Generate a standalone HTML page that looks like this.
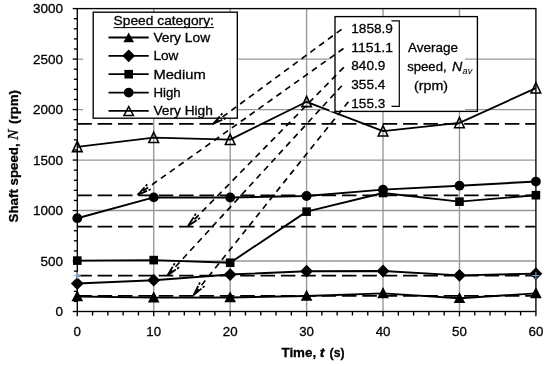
<!DOCTYPE html>
<html lang="en">
<head>
<meta charset="utf-8">
<title>Shaft speed vs time</title>
<style>
html,body{margin:0;padding:0;background:#fff;}
body{width:550px;height:366px;overflow:hidden;}
svg{display:block;}
text{font-family:"Liberation Sans",sans-serif;font-size:13.6px;fill:#000;stroke:#000;stroke-width:0.3px;}
.b{font-weight:bold;}
.i{font-style:italic;}
.ser{font-family:"Liberation Serif",serif;font-style:italic;font-weight:normal;}
</style>
</head>
<body>
<svg width="550" height="366" viewBox="0 0 550 366">
<rect x="0" y="0" width="550" height="366" fill="#fff"/>

<g stroke="#979797" stroke-width="1.35" fill="none">
<line x1="77.3" y1="261.02" x2="535.9" y2="261.02"/>
<line x1="77.3" y1="210.53" x2="535.9" y2="210.53"/>
<line x1="77.3" y1="160.05" x2="535.9" y2="160.05"/>
<line x1="77.3" y1="109.57" x2="535.9" y2="109.57"/>
<line x1="77.3" y1="59.08" x2="535.9" y2="59.08"/>
<line x1="153.73" y1="8.6" x2="153.73" y2="311.5"/>
<line x1="230.17" y1="8.6" x2="230.17" y2="311.5"/>
<line x1="306.6" y1="8.6" x2="306.6" y2="311.5"/>
<line x1="383.03" y1="8.6" x2="383.03" y2="311.5"/>
<line x1="459.47" y1="8.6" x2="459.47" y2="311.5"/>
</g>
<g stroke="#000" stroke-width="1.35" fill="none">
<rect x="77.3" y="8.6" width="458.6" height="302.9"/>
<line x1="72.7" y1="311.5" x2="77.3" y2="311.5"/>
<line x1="73.9" y1="301.4" x2="77.3" y2="301.4"/>
<line x1="73.9" y1="291.31" x2="77.3" y2="291.31"/>
<line x1="73.9" y1="281.21" x2="77.3" y2="281.21"/>
<line x1="73.9" y1="271.11" x2="77.3" y2="271.11"/>
<line x1="72.7" y1="261.02" x2="77.3" y2="261.02"/>
<line x1="73.9" y1="250.92" x2="77.3" y2="250.92"/>
<line x1="73.9" y1="240.82" x2="77.3" y2="240.82"/>
<line x1="73.9" y1="230.73" x2="77.3" y2="230.73"/>
<line x1="73.9" y1="220.63" x2="77.3" y2="220.63"/>
<line x1="72.7" y1="210.53" x2="77.3" y2="210.53"/>
<line x1="73.9" y1="200.44" x2="77.3" y2="200.44"/>
<line x1="73.9" y1="190.34" x2="77.3" y2="190.34"/>
<line x1="73.9" y1="180.24" x2="77.3" y2="180.24"/>
<line x1="73.9" y1="170.15" x2="77.3" y2="170.15"/>
<line x1="72.7" y1="160.05" x2="77.3" y2="160.05"/>
<line x1="73.9" y1="149.95" x2="77.3" y2="149.95"/>
<line x1="73.9" y1="139.86" x2="77.3" y2="139.86"/>
<line x1="73.9" y1="129.76" x2="77.3" y2="129.76"/>
<line x1="73.9" y1="119.66" x2="77.3" y2="119.66"/>
<line x1="72.7" y1="109.57" x2="77.3" y2="109.57"/>
<line x1="73.9" y1="99.47" x2="77.3" y2="99.47"/>
<line x1="73.9" y1="89.37" x2="77.3" y2="89.37"/>
<line x1="73.9" y1="79.28" x2="77.3" y2="79.28"/>
<line x1="73.9" y1="69.18" x2="77.3" y2="69.18"/>
<line x1="72.7" y1="59.08" x2="77.3" y2="59.08"/>
<line x1="73.9" y1="48.99" x2="77.3" y2="48.99"/>
<line x1="73.9" y1="38.89" x2="77.3" y2="38.89"/>
<line x1="73.9" y1="28.79" x2="77.3" y2="28.79"/>
<line x1="73.9" y1="18.7" x2="77.3" y2="18.7"/>
<line x1="72.7" y1="8.6" x2="77.3" y2="8.6"/>
<line x1="77.3" y1="311.5" x2="77.3" y2="316.3"/>
<line x1="92.59" y1="311.5" x2="92.59" y2="315.5"/>
<line x1="107.87" y1="311.5" x2="107.87" y2="315.5"/>
<line x1="123.16" y1="311.5" x2="123.16" y2="315.5"/>
<line x1="138.45" y1="311.5" x2="138.45" y2="315.5"/>
<line x1="153.73" y1="311.5" x2="153.73" y2="316.3"/>
<line x1="169.02" y1="311.5" x2="169.02" y2="315.5"/>
<line x1="184.31" y1="311.5" x2="184.31" y2="315.5"/>
<line x1="199.59" y1="311.5" x2="199.59" y2="315.5"/>
<line x1="214.88" y1="311.5" x2="214.88" y2="315.5"/>
<line x1="230.17" y1="311.5" x2="230.17" y2="316.3"/>
<line x1="245.45" y1="311.5" x2="245.45" y2="315.5"/>
<line x1="260.74" y1="311.5" x2="260.74" y2="315.5"/>
<line x1="276.03" y1="311.5" x2="276.03" y2="315.5"/>
<line x1="291.31" y1="311.5" x2="291.31" y2="315.5"/>
<line x1="306.6" y1="311.5" x2="306.6" y2="316.3"/>
<line x1="321.89" y1="311.5" x2="321.89" y2="315.5"/>
<line x1="337.17" y1="311.5" x2="337.17" y2="315.5"/>
<line x1="352.46" y1="311.5" x2="352.46" y2="315.5"/>
<line x1="367.75" y1="311.5" x2="367.75" y2="315.5"/>
<line x1="383.03" y1="311.5" x2="383.03" y2="316.3"/>
<line x1="398.32" y1="311.5" x2="398.32" y2="315.5"/>
<line x1="413.61" y1="311.5" x2="413.61" y2="315.5"/>
<line x1="428.89" y1="311.5" x2="428.89" y2="315.5"/>
<line x1="444.18" y1="311.5" x2="444.18" y2="315.5"/>
<line x1="459.47" y1="311.5" x2="459.47" y2="316.3"/>
<line x1="474.75" y1="311.5" x2="474.75" y2="315.5"/>
<line x1="490.04" y1="311.5" x2="490.04" y2="315.5"/>
<line x1="505.33" y1="311.5" x2="505.33" y2="315.5"/>
<line x1="520.61" y1="311.5" x2="520.61" y2="315.5"/>
<line x1="535.9" y1="311.5" x2="535.9" y2="316.3"/>
</g>
<g stroke="#000" stroke-width="1.8" fill="none" stroke-dasharray="14.5 5.86">
<line x1="77.3" y1="123.81" x2="535.9" y2="123.81"/>
<line x1="77.3" y1="195.28" x2="535.9" y2="195.28"/>
<line x1="77.3" y1="226.6" x2="535.9" y2="226.6"/>
<line x1="77.3" y1="275.62" x2="535.9" y2="275.62"/>
<line x1="77.3" y1="295.82" x2="535.9" y2="295.82"/>
</g>
<polyline points="77.3,296.56 153.73,297.67 230.17,297.47 306.6,295.95 383.03,293.33 459.47,298.27 535.9,293.33" fill="none" stroke="#000" stroke-width="1.9" stroke-linejoin="round"/>
<path d="M77.3 290.26 L83.1 301.36 L71.5 301.36 Z" fill="#000"/>
<path d="M153.73 291.37 L159.53 302.47 L147.93 302.47 Z" fill="#000"/>
<path d="M230.17 291.17 L235.97 302.27 L224.37 302.27 Z" fill="#000"/>
<path d="M306.6 289.65 L312.4 300.75 L300.8 300.75 Z" fill="#000"/>
<path d="M383.03 287.03 L388.83 298.13 L377.23 298.13 Z" fill="#000"/>
<path d="M459.47 291.97 L465.27 303.07 L453.67 303.07 Z" fill="#000"/>
<path d="M535.9 287.03 L541.7 298.13 L530.1 298.13 Z" fill="#000"/>
<polyline points="77.3,283.53 153.73,280.2 230.17,274.55 306.6,271.21 383.03,271.01 459.47,275.35 535.9,273.64" fill="none" stroke="#000" stroke-width="1.9" stroke-linejoin="round"/>
<path d="M77.3 277.13 L83.7 283.53 L77.3 289.93 L70.9 283.53 Z" fill="#000"/>
<path d="M153.73 273.8 L160.13 280.2 L153.73 286.6 L147.33 280.2 Z" fill="#000"/>
<path d="M230.17 268.15 L236.57 274.55 L230.17 280.95 L223.77 274.55 Z" fill="#000"/>
<path d="M306.6 264.81 L313 271.21 L306.6 277.61 L300.2 271.21 Z" fill="#000"/>
<path d="M383.03 264.61 L389.43 271.01 L383.03 277.41 L376.63 271.01 Z" fill="#000"/>
<path d="M459.47 268.95 L465.87 275.35 L459.47 281.75 L453.07 275.35 Z" fill="#000"/>
<path d="M535.9 267.24 L542.3 273.64 L535.9 280.04 L529.5 273.64 Z" fill="#000"/>
<polyline points="77.3,260.61 153.73,260.11 230.17,262.73 306.6,211.64 383.03,192.97 459.47,201.65 535.9,195.19" fill="none" stroke="#000" stroke-width="1.9" stroke-linejoin="round"/>
<rect x="73" y="256.31" width="8.6" height="8.6" fill="#000"/>
<rect x="149.43" y="255.81" width="8.6" height="8.6" fill="#000"/>
<rect x="225.87" y="258.43" width="8.6" height="8.6" fill="#000"/>
<rect x="302.3" y="207.34" width="8.6" height="8.6" fill="#000"/>
<rect x="378.73" y="188.67" width="8.6" height="8.6" fill="#000"/>
<rect x="455.17" y="197.35" width="8.6" height="8.6" fill="#000"/>
<rect x="531.6" y="190.89" width="8.6" height="8.6" fill="#000"/>
<polyline points="77.3,218.21 153.73,197.41 230.17,197.51 306.6,195.99 383.03,189.63 459.47,185.7 535.9,181.56" fill="none" stroke="#000" stroke-width="1.9" stroke-linejoin="round"/>
<circle cx="77.3" cy="218.21" r="4.9" fill="#000"/>
<circle cx="153.73" cy="197.41" r="4.9" fill="#000"/>
<circle cx="230.17" cy="197.51" r="4.9" fill="#000"/>
<circle cx="306.6" cy="195.99" r="4.9" fill="#000"/>
<circle cx="383.03" cy="189.63" r="4.9" fill="#000"/>
<circle cx="459.47" cy="185.7" r="4.9" fill="#000"/>
<circle cx="535.9" cy="181.56" r="4.9" fill="#000"/>
<polyline points="77.3,146.82 153.73,137.64 230.17,139.65 306.6,101.79 383.03,131.17 459.47,122.89 535.9,88.16" fill="none" stroke="#000" stroke-width="1.8" stroke-linejoin="round"/>
<path d="M77.3 141.42 L82.1 151.62 L72.5 151.62 Z" fill="none" stroke="#000" stroke-width="1.6" stroke-linejoin="miter"/>
<path d="M153.73 132.24 L158.53 142.44 L148.93 142.44 Z" fill="none" stroke="#000" stroke-width="1.6" stroke-linejoin="miter"/>
<path d="M230.17 134.25 L234.97 144.45 L225.37 144.45 Z" fill="none" stroke="#000" stroke-width="1.6" stroke-linejoin="miter"/>
<path d="M306.6 96.39 L311.4 106.59 L301.8 106.59 Z" fill="none" stroke="#000" stroke-width="1.6" stroke-linejoin="miter"/>
<path d="M383.03 125.77 L387.83 135.97 L378.23 135.97 Z" fill="none" stroke="#000" stroke-width="1.6" stroke-linejoin="miter"/>
<path d="M459.47 117.49 L464.27 127.69 L454.67 127.69 Z" fill="none" stroke="#000" stroke-width="1.6" stroke-linejoin="miter"/>
<path d="M535.9 82.76 L540.7 92.96 L531.1 92.96 Z" fill="none" stroke="#000" stroke-width="1.6" stroke-linejoin="miter"/>
<path d="M73.8 275.62 H80.8 M77.3 272.12 V279.12" stroke="#8db3e2" stroke-width="1" fill="none"/>
<path d="M532.4 275.62 H539.4 M535.9 272.12 V279.12" stroke="#8db3e2" stroke-width="1" fill="none"/>
<rect x="83" y="12.2" width="154.3" height="106" fill="#fff"/>
<rect x="93.2" y="12.2" width="144.1" height="106" fill="none" stroke="#000" stroke-width="1.35"/>
<text x="113.6" y="24.9" textLength="100.3" lengthAdjust="spacingAndGlyphs">Speed category:</text>
<line x1="113.6" y1="27.6" x2="213.9" y2="27.6" stroke="#000" stroke-width="1"/>
<line x1="108.5" y1="37.5" x2="148.7" y2="37.5" stroke="#000" stroke-width="1.8"/>
<path d="M128.7 32.5 L134 42.3 L123.4 42.3 Z" fill="#000"/>
<text x="153.4" y="41.9" textLength="56.8" lengthAdjust="spacingAndGlyphs">Very Low</text>
<line x1="108.5" y1="55.8" x2="148.7" y2="55.8" stroke="#000" stroke-width="1.8"/>
<path d="M128.7 49.4 L135.1 55.8 L128.7 62.2 L122.3 55.8 Z" fill="#000"/>
<text x="153.4" y="60.2" textLength="25" lengthAdjust="spacingAndGlyphs">Low</text>
<line x1="108.5" y1="74.2" x2="148.7" y2="74.2" stroke="#000" stroke-width="1.8"/>
<rect x="124.4" y="69.9" width="8.6" height="8.6" fill="#000"/>
<text x="153.4" y="78.6" textLength="52.3" lengthAdjust="spacingAndGlyphs">Medium</text>
<line x1="108.5" y1="92.6" x2="148.7" y2="92.6" stroke="#000" stroke-width="1.8"/>
<circle cx="128.7" cy="92.6" r="4.9" fill="#000"/>
<text x="153.4" y="97" textLength="27.3" lengthAdjust="spacingAndGlyphs">High</text>
<line x1="108.5" y1="110.9" x2="148.7" y2="110.9" stroke="#000" stroke-width="1.8"/>
<path d="M128.7 106.7 L133.4 115.4 L124 115.4 Z" fill="none" stroke="#000" stroke-width="1.5"/>
<text x="153.4" y="115.3" textLength="59.5" lengthAdjust="spacingAndGlyphs">Very High</text>
<rect x="329.5" y="16.6" width="135.5" height="94.8" fill="#fff"/>
<rect x="335" y="16.6" width="142.4" height="94.8" fill="none" stroke="#000" stroke-width="1.35"/>
<text x="351.3" y="32.7" textLength="41.6" lengthAdjust="spacingAndGlyphs">1858.9</text>
<text x="351.3" y="51.6" textLength="41.6" lengthAdjust="spacingAndGlyphs">1151.1</text>
<text x="351.3" y="70.4" textLength="34" lengthAdjust="spacingAndGlyphs">840.9</text>
<text x="351.3" y="89.2" textLength="34" lengthAdjust="spacingAndGlyphs">355.4</text>
<text x="351.3" y="107.6" textLength="34" lengthAdjust="spacingAndGlyphs">155.3</text>
<path d="M391.5 20.8 H399.3 V106.4 H391.5" fill="none" stroke="#000" stroke-width="1.2"/>
<text x="408" y="51.6" textLength="50" lengthAdjust="spacingAndGlyphs">Average</text>
<text x="407.2" y="71.1" textLength="39.4" lengthAdjust="spacingAndGlyphs">speed,</text>
<text x="452" y="71.1" class="i" textLength="10.3" lengthAdjust="spacingAndGlyphs">N</text>
<text x="462.6" y="73.6" class="i" style="font-size:8.8px;stroke-width:0.05px" textLength="9.6" lengthAdjust="spacingAndGlyphs">av</text>
<text x="414.1" y="89.8" textLength="34" lengthAdjust="spacingAndGlyphs">(rpm)</text>
<g stroke="#000" stroke-width="1.65" fill="none">
<line x1="341.6" y1="29.3" x2="213" y2="124" stroke-dasharray="6.1 4.8"/>
<line x1="213" y1="124" x2="222.43" y2="113.38" stroke-width="1.8" stroke-dasharray="10.2 1.6 3"/>
<line x1="213" y1="124" x2="225.94" y2="118.15" stroke-width="1.8" stroke-dasharray="10.2 1.6 3"/>
<line x1="343.5" y1="48.5" x2="137.7" y2="194.9" stroke-dasharray="6.1 4.8"/>
<line x1="137.7" y1="194.9" x2="147.3" y2="184.44" stroke-width="1.8" stroke-dasharray="10.2 1.6 3"/>
<line x1="137.7" y1="194.9" x2="150.73" y2="189.26" stroke-width="1.8" stroke-dasharray="10.2 1.6 3"/>
<line x1="343.8" y1="67.3" x2="188.2" y2="225.8" stroke-dasharray="6.1 4.8"/>
<line x1="188.2" y1="225.8" x2="195.82" y2="213.82" stroke-width="1.8" stroke-dasharray="10.2 1.6 3"/>
<line x1="188.2" y1="225.8" x2="200.04" y2="217.96" stroke-width="1.8" stroke-dasharray="10.2 1.6 3"/>
<line x1="341.8" y1="85.7" x2="167.5" y2="275.5" stroke-dasharray="6.1 4.8"/>
<line x1="167.5" y1="275.5" x2="174.71" y2="263.27" stroke-width="1.8" stroke-dasharray="10.2 1.6 3"/>
<line x1="167.5" y1="275.5" x2="179.07" y2="267.27" stroke-width="1.8" stroke-dasharray="10.2 1.6 3"/>
<line x1="348.4" y1="101.8" x2="193.6" y2="295.1" stroke-dasharray="6.1 4.8"/>
<line x1="193.6" y1="295.1" x2="199.97" y2="282.41" stroke-width="1.8" stroke-dasharray="10.2 1.6 3"/>
<line x1="193.6" y1="295.1" x2="204.59" y2="286.11" stroke-width="1.8" stroke-dasharray="10.2 1.6 3"/>
</g>
<text x="63.1" y="316.25" text-anchor="end" textLength="7.5" lengthAdjust="spacingAndGlyphs">0</text>
<text x="63.1" y="265.77" text-anchor="end" textLength="22.5" lengthAdjust="spacingAndGlyphs">500</text>
<text x="63.1" y="215.28" text-anchor="end" textLength="30" lengthAdjust="spacingAndGlyphs">1000</text>
<text x="63.1" y="164.8" text-anchor="end" textLength="30" lengthAdjust="spacingAndGlyphs">1500</text>
<text x="63.1" y="114.32" text-anchor="end" textLength="30" lengthAdjust="spacingAndGlyphs">2000</text>
<text x="63.1" y="63.83" text-anchor="end" textLength="30" lengthAdjust="spacingAndGlyphs">2500</text>
<text x="63.1" y="13.35" text-anchor="end" textLength="30" lengthAdjust="spacingAndGlyphs">3000</text>
<text x="77.3" y="336.3" text-anchor="middle" textLength="7.4" lengthAdjust="spacingAndGlyphs">0</text>
<text x="153.73" y="336.3" text-anchor="middle" textLength="14.8" lengthAdjust="spacingAndGlyphs">10</text>
<text x="230.17" y="336.3" text-anchor="middle" textLength="14.8" lengthAdjust="spacingAndGlyphs">20</text>
<text x="306.6" y="336.3" text-anchor="middle" textLength="14.8" lengthAdjust="spacingAndGlyphs">30</text>
<text x="383.03" y="336.3" text-anchor="middle" textLength="14.8" lengthAdjust="spacingAndGlyphs">40</text>
<text x="459.47" y="336.3" text-anchor="middle" textLength="14.8" lengthAdjust="spacingAndGlyphs">50</text>
<text x="535.9" y="336.3" text-anchor="middle" textLength="14.8" lengthAdjust="spacingAndGlyphs">60</text>
<text x="281.5" y="357.2" class="b" textLength="34.6" lengthAdjust="spacingAndGlyphs">Time,</text>
<text x="319.8" y="357.2" class="b i" textLength="4.8" lengthAdjust="spacingAndGlyphs">t</text>
<text x="329.6" y="357.2" class="b" textLength="14.9" lengthAdjust="spacingAndGlyphs">(s)</text>
<g transform="translate(17.6 222.4) rotate(-90)">
<text x="0" y="0" class="b" textLength="79" lengthAdjust="spacingAndGlyphs">Shaft speed,</text>
<text x="82.3" y="0" class="ser" style="font-size:14.5px" textLength="10.5" lengthAdjust="spacingAndGlyphs">N</text>
<text x="98.4" y="0" class="b" textLength="34" lengthAdjust="spacingAndGlyphs">(rpm)</text>
</g>
</svg>
</body>
</html>
